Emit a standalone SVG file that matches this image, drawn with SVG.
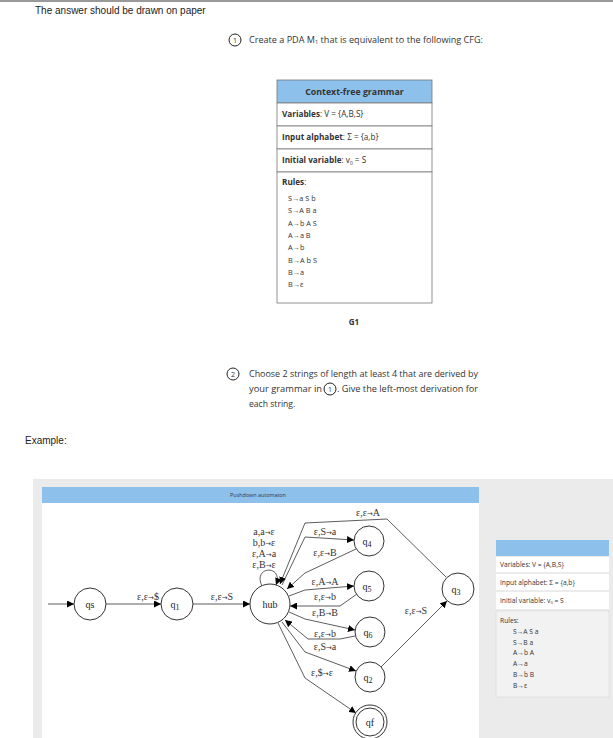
<svg xmlns="http://www.w3.org/2000/svg" width="613" height="738" viewBox="0 0 613 738">
<defs>
<marker id="ah" viewBox="0 0 10 10" refX="10" refY="5" markerWidth="7" markerHeight="7" markerUnits="userSpaceOnUse" orient="auto"><path d="M0,0 L10,5 L0,10 z" fill="#000"/></marker>
<style>
.top{font-family:"Liberation Sans",Arial,sans-serif;font-size:10px;fill:#222}
.os{font-family:"Open Sans","Noto Sans",sans-serif;fill:#333}
.t7{font-size:8.2px}
.t8{font-size:8.6px}
.cell{fill:#fff;stroke:#777;stroke-width:0.8}
.hdr{fill:#8dc1ec;stroke:#777;stroke-width:0.8}
.st{fill:#fff;stroke:#333;stroke-width:1}
.sl{font-family:"Liberation Serif","DejaVu Serif",serif;font-size:10px;fill:#222;text-anchor:middle}
.el{font-family:"Liberation Serif","DejaVu Serif",serif;font-size:10px;fill:#333;text-anchor:middle}
.a{font-family:"DejaVu Sans",sans-serif;font-size:7px}
.e{fill:none;stroke:#333;stroke-width:0.8;marker-end:url(#ah)}
.sm{font-family:"Open Sans","Noto Sans",sans-serif;font-size:6.7px;fill:#333}
</style>
</defs>
<rect x="0" y="0" width="613" height="738" fill="#fff"/>
<rect x="0" y="0" width="613" height="2" fill="#999"/>
<text class="top" x="35" y="14">The answer should be drawn on paper</text>

<g id="part1">
<circle cx="235" cy="40" r="6" fill="none" stroke="#222" stroke-width="1"/>
<text class="os" x="235" y="42.6" font-size="7" text-anchor="middle">1</text>
<text class="os t8" x="249" y="42.5" textLength="234" lengthAdjust="spacingAndGlyphs">Create a PDA M<tspan font-size="5.5" dy="1.5">1</tspan><tspan dy="-1.5"> that is equivalent to the following CFG:</tspan></text>
</g>

<g id="cfg-table">
<rect class="hdr" x="277" y="80" width="155" height="23"/>
<text class="os" x="354.5" y="94.5" font-size="8.8" font-weight="bold" text-anchor="middle" fill="#222">Context-free grammar</text>
<rect class="cell" x="277" y="103" width="155" height="23"/>
<text class="os t7" x="282" y="117"><tspan font-weight="bold">Variables</tspan>: V = {A,B,S}</text>
<rect class="cell" x="277" y="126" width="155" height="23"/>
<text class="os t7" x="282" y="140"><tspan font-weight="bold">Input alphabet</tspan>: Σ = {a,b}</text>
<rect class="cell" x="277" y="149" width="155" height="23"/>
<text class="os t7" x="282" y="163"><tspan font-weight="bold">Initial variable</tspan>: v<tspan font-size="5" dy="1.5">0</tspan><tspan dy="-1.5"> = S</tspan></text>
<rect class="cell" x="277" y="172" width="155" height="131"/>
<text class="os t7" x="282" y="185"><tspan font-weight="bold">Rules</tspan>:</text>
<g class="os" font-size="7.3">
<text x="288" y="201">S→a S b</text>
<text x="288" y="213">S→A B a</text>
<text x="288" y="226">A→b A S</text>
<text x="288" y="238">A→a B</text>
<text x="288" y="250">A→b</text>
<text x="288" y="263">B→A b S</text>
<text x="288" y="275">B→a</text>
<text x="288" y="287">B→ε</text>
</g>
<text class="os" x="354" y="325" font-size="8" font-weight="bold" text-anchor="middle">G1</text>
</g>

<g id="part2">
<circle cx="233" cy="374" r="6" fill="none" stroke="#222" stroke-width="1"/>
<text class="os" x="233" y="376.6" font-size="7" text-anchor="middle">2</text>
<text class="os t8" x="249" y="377" textLength="229" lengthAdjust="spacingAndGlyphs">Choose 2 strings of length at least 4 that are derived by</text>
<text class="os t8" x="249" y="392" textLength="73" lengthAdjust="spacingAndGlyphs">your grammar in</text>
<circle cx="330" cy="389" r="6" fill="none" stroke="#222" stroke-width="1"/>
<text class="os" x="330" y="391.6" font-size="7" text-anchor="middle">1</text>
<text class="os t8" x="337" y="392" textLength="141" lengthAdjust="spacingAndGlyphs">. Give the left-most derivation for</text>
<text class="os t8" x="249" y="407">each string.</text>
</g>

<text class="top" x="25" y="444" font-size="13">Example:</text>

<g id="example-frame">
<rect x="33" y="479" width="580" height="259" fill="#ebebeb"/>
<rect x="42" y="487" width="437" height="251" fill="#fff"/>
<rect x="42" y="487" width="437" height="16" fill="#8dc1ec"/>
<text class="os" x="258" y="497" font-size="5.4" text-anchor="middle">Pushdown automaton</text>
</g>

<g id="connectors">
<path class="e" d="M48 604 L74 604"/>
<path class="e" d="M106 604 L161 604"/>
<path class="e" d="M193 604 L250 604"/>
<path class="e" d="M262 586 C252 566 284 564 276 585"/>
<path class="e" d="M282 585 L305 537 L354 540"/>
<path class="e" d="M356 549 L305 573 L287 589"/>
<path class="e" d="M446 577 L387 519 L305 523 L280 584"/>
<path class="e" d="M289 596 L305 590 L354 586"/>
<path class="e" d="M357 594 L340 606 L290 606"/>
<path class="e" d="M289 612 L305 619 L355 630"/>
<path class="e" d="M355 636 L340 639 L308 639 L285 620"/>
<path class="e" d="M282 622 L305 652 L356 671"/>
<path class="e" d="M278 623 L305 678 L356 713"/>
<path class="e" d="M381 667 L447 601"/>
</g>

<g id="edge-labels">
<text class="el" x="148" y="600">ε,ε<tspan class="a">→</tspan>$</text>
<text class="el" x="222" y="600">ε,ε<tspan class="a">→</tspan>S</text>
<text class="el" x="264" y="535">a,a<tspan class="a">→</tspan>ε</text>
<text class="el" x="264" y="546">b,b<tspan class="a">→</tspan>ε</text>
<text class="el" x="264" y="557">ε,A<tspan class="a">→</tspan>a</text>
<text class="el" x="264" y="568">ε,B<tspan class="a">→</tspan>ε</text>
<text class="el" x="368" y="516">ε,ε<tspan class="a">→</tspan>A</text>
<text class="el" x="325" y="535">ε,S<tspan class="a">→</tspan>a</text>
<text class="el" x="325" y="556">ε,ε<tspan class="a">→</tspan>B</text>
<text class="el" x="325" y="585">ε,A<tspan class="a">→</tspan>A</text>
<text class="el" x="325" y="600">ε,ε<tspan class="a">→</tspan>b</text>
<text class="el" x="325" y="616">ε,B<tspan class="a">→</tspan>B</text>
<text class="el" x="325" y="637">ε,ε<tspan class="a">→</tspan>b</text>
<text class="el" x="325" y="650">ε,S<tspan class="a">→</tspan>a</text>
<text class="el" x="322" y="676">ε,$<tspan class="a">→</tspan>ε</text>
<text class="el" x="416" y="614">ε,ε<tspan class="a">→</tspan>S</text>
</g>

<g id="qs"><circle class="st" cx="90" cy="604" r="16"/><text class="sl" x="90" y="608">qs</text></g>
<g id="q1"><circle class="st" cx="177" cy="604" r="16"/><text class="sl" x="175" y="608">q<tspan font-size="8" dy="2">1</tspan></text></g>
<g id="hub"><circle class="st" cx="270" cy="604" r="20"/><text class="sl" x="270" y="608">hub</text></g>
<g id="q4"><circle class="st" cx="369" cy="541" r="15"/><text class="sl" x="367" y="545">q<tspan font-size="8" dy="2">4</tspan></text></g>
<g id="q5"><circle class="st" cx="369" cy="586" r="15"/><text class="sl" x="367" y="590">q<tspan font-size="8" dy="2">5</tspan></text></g>
<g id="q6"><circle class="st" cx="370" cy="632" r="15"/><text class="sl" x="368" y="636">q<tspan font-size="8" dy="2">6</tspan></text></g>
<g id="q2"><circle class="st" cx="370" cy="677" r="15"/><text class="sl" x="368" y="681">q<tspan font-size="8" dy="2">2</tspan></text></g>
<g id="qf"><circle class="st" cx="370" cy="722" r="17"/><circle class="st" cx="370" cy="722" r="14"/><text class="sl" x="370" y="726">qf</text></g>
<g id="q3"><circle class="st" cx="458" cy="589" r="16"/><text class="sl" x="456" y="593">q<tspan font-size="8" dy="2">3</tspan></text></g>

<g id="example-table">
<rect x="496" y="540" width="113" height="16" fill="#8dc1ec"/>
<rect x="496" y="557" width="113" height="15" fill="#fff"/>
<text class="sm" x="500" y="567">Variables: V = {A,B,S}</text>
<rect x="496" y="574" width="113" height="16" fill="#fff"/>
<text class="sm" x="500" y="584.5">Input alphabet: Σ = {a,b}</text>
<rect x="496" y="592" width="113" height="17" fill="#fff"/>
<text class="sm" x="500" y="602.5">Initial variable: v<tspan font-size="4" dy="1">0</tspan><tspan dy="-1"> = S</tspan></text>
<rect x="496" y="611" width="113" height="86" fill="#f2f2f2" stroke="#d8d8d8" stroke-width="0.6"/>
<text class="sm" x="500" y="623">Rules:</text>
<text class="sm" x="513" y="634">S→A S a</text>
<text class="sm" x="513" y="645">S→B a</text>
<text class="sm" x="513" y="655">A→b A</text>
<text class="sm" x="513" y="666">A→a</text>
<text class="sm" x="513" y="677">B→b B</text>
<text class="sm" x="513" y="688">B→ε</text>
</g>
</svg>
